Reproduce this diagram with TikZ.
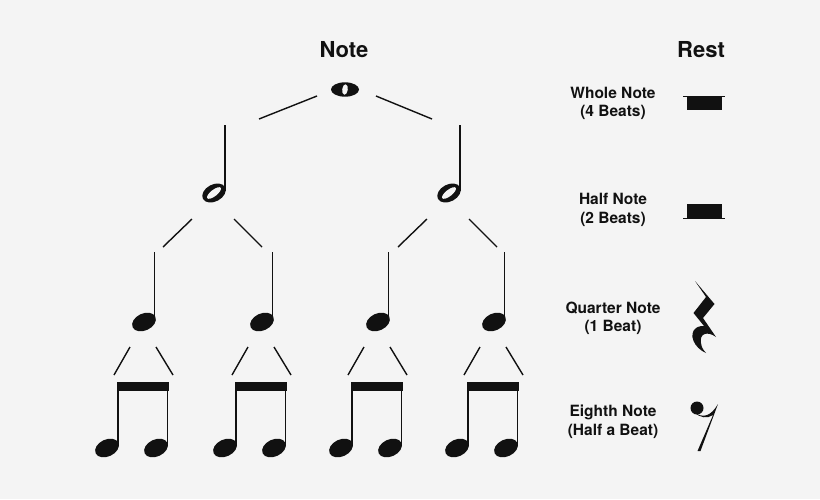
\documentclass[tikz,border=0pt]{standalone}
\usepackage{fontspec}
\setmainfont{TeX Gyre Heros}
\usepackage{xcolor}
\usepackage{tikz}
\usetikzlibrary{calc}

\definecolor{paper}{HTML}{F4F4F4}
\definecolor{ink}{HTML}{111111}

\begin{document}
\begin{tikzpicture}[x=1pt,y=-1pt]
\tikzset{
  stem/.style={line width=1.9pt, ink},
  tree/.style={line width=1.4pt, ink},
  title/.style={font=\fontsize{22}{26}\selectfont\bfseries, text=ink},
  restlabel/.style={font=\fontsize{15.5}{18.5}\selectfont\bfseries, text=ink, align=center},
  pics/quarter/.style={code={
    \fill[ink,rotate=25] (0,0) ellipse (12.5 and 8.5);
    \draw[stem] (10.5,-2) -- (10.5,-70);
  }},
  pics/half/.style={code={
    \fill[ink,rotate=28] (0,0) ellipse (12.5 and 8.5);
    \fill[paper,rotate=38] (0,0) ellipse (8.5 and 3.2);
    \draw[stem] (11,-2) -- (11,-68);
  }},
  pics/eighths/.style={code={
    \fill[ink,shift={(-37,0)},rotate=25] (0,0) ellipse (12.5 and 8.5);
    \fill[ink,shift={(12,0)},rotate=25] (0,0) ellipse (12.5 and 8.5);
    \draw[stem] (-26,-2) -- (-26,-64);
    \draw[stem] (23.5,-2) -- (23.5,-64);
    \fill[ink] (-27,-66) rectangle (25,-57);
  }}
}
\fill[paper] (0,0) rectangle (820,499);

% titles
\node[title] (notetitle) at (344,50) {Note};
\node[title] (resttitle) at (701,50) {Rest};

% whole note
\coordinate (whole) at (345,89.5);
\fill[ink] (whole) ellipse (14 and 7.2);
\fill[paper,rotate around={-8:(whole)}] (whole) ellipse (2.8 and 5.3);
\draw[tree] (259,119) -- (317,96);
\draw[tree] (376,96) -- (432,119);

% half notes
\foreach \c/\n in {214/1,449/2} {
  \pic (half\n) at (\c,193) {half};
  \draw[tree] (\c-51,247) -- (\c-22,219);
  \draw[tree] (\c+20,219) -- (\c+48,247);
}

% quarter notes and eighth pairs
\foreach \c/\n in {144/1,262/2,378/3,494/4} {
  \pic (quarter\n) at (\c,322) {quarter};
  \draw[tree] (\c-30,375) -- (\c-14,347);
  \draw[tree] (\c+12,347) -- (\c+29,375);
  \pic (eighth\n) at (\c,448) {eighths};
}

% rest column
\node[restlabel] (wholelabel) at (613,103.5) {Whole Note\\(4 Beats)};
\node[restlabel] (halflabel) at (613,210) {Half Note\\(2 Beats)};
\node[restlabel] (quarterlabel) at (613,318.5) {Quarter Note\\(1 Beat)};
\node[restlabel] (eighthlabel) at (613,422) {Eighth Note\\(Half a Beat)};

% whole rest
\draw[ink,line width=0.9pt] (683,96) -- (725,96);
\fill[ink] (687,97) rectangle (722,110);
% half rest
\fill[ink] (687,204) rectangle (722,218);
\draw[ink,line width=0.9pt] (683,218) -- (725,218);
% quarter rest
\fill[ink] (695,281) -- (714.5,304) -- (703,318) -- (716,337)
  .. controls (708,331) and (699,333) .. (701,343)
  .. controls (702,348) .. (706,353)
  .. controls (694,348) and (688,334) .. (696,328)
  .. controls (699,326) and (702,326) .. (704,326)
  -- (693.5,313) -- (706,297) -- cycle;
% eighth rest
\fill[ink] (697,408) circle (6.5);
\fill[ink] (694,412) .. controls (703,419) and (711,416) .. (718,404)
  -- (700.5,451) -- (697.5,451) -- (713,415)
  .. controls (707,419) and (700,418) .. (694,412) -- cycle;
\end{tikzpicture}
\end{document}
